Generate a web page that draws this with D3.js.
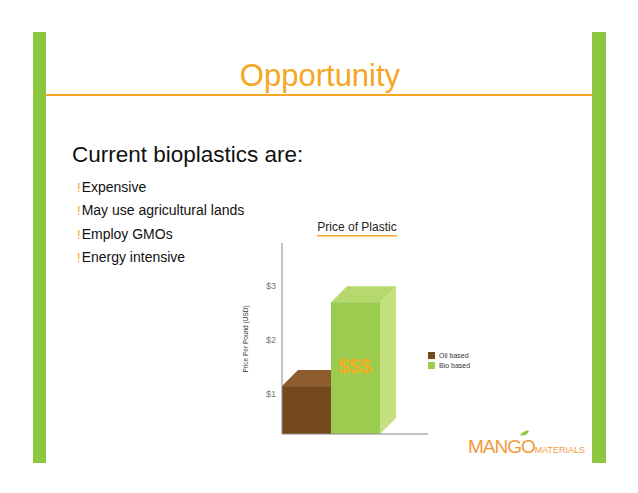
<!DOCTYPE html>
<html><head><meta charset="utf-8">
<script src="https://cdn.jsdelivr.net/npm/d3@7"></script>
<style>body{margin:0;background:#fff}text{font-family:"Liberation Sans",Arial,sans-serif}</style>
</head><body><div id="vis"></div>
<script>
var categories = ["Oil based", "Bio based"];
var prices = [1.14, 2.70];
var colors = ["#744a1c", "#9ccc4f"];
var topColors = ["#8e5d2f", "#b5d96c"];
var sideColors = ["#5e3a14", "#c4e07f"];
var tickValues = [1, 2, 3];
var bullets = ["Expensive", "May use agricultural lands", "Employ GMOs", "Energy intensive"];

var svg = d3.select("#vis").append("svg").attr("width", 638).attr("height", 493);

// slide frame
svg.append("rect").attr("x", 33).attr("y", 32).attr("width", 13).attr("height", 431).attr("fill", "#8dc63f");
svg.append("rect").attr("x", 592).attr("y", 32).attr("width", 14).attr("height", 431).attr("fill", "#8dc63f");
svg.append("text").attr("x", 320).attr("y", 86).attr("text-anchor", "middle")
	.attr("font-size", 31).attr("fill", "#f5a623").text("Opportunity");
svg.append("rect").attr("x", 46).attr("y", 94).attr("width", 546).attr("height", 2).attr("fill", "#f5a623");
svg.append("text").attr("x", 72).attr("y", 162).attr("font-size", 22.5).attr("fill", "#111").text("Current bioplastics are:");

bullets.forEach(function(b, i) {
	var t = svg.append("text").attr("x", 77).attr("y", 192 + i * 23.3).attr("font-size", 14).attr("fill", "#111");
	t.append("tspan").attr("fill", "#f5a623").attr("font-size", 13).text("!");
	t.append("tspan").attr("dx", 1).text(b);
});

// chart
var y = d3.scaleLinear().domain([0.25, 3.8]).range([434, 243]);
var x = d3.scaleBand().domain(categories).range([282, 380]).padding(0);
var dx = 16, dy = 16;

svg.append("text").attr("x", 357).attr("y", 231).attr("text-anchor", "middle")
	.attr("font-size", 12).attr("fill", "#222").text("Price of Plastic");
svg.append("rect").attr("x", 317).attr("y", 235).attr("width", 80).attr("height", 1.5).attr("fill", "#f5a623");

var g = svg.append("g");
[0, 1].forEach(function(i) {
	var x0 = x(categories[i]), w = x.bandwidth(), yt = y(prices[i]), yb = y.range()[0];
	g.append("polygon").attr("fill", sideColors[i])
		.attr("points", [[x0 + w, yt], [x0 + w + dx, yt - dy], [x0 + w + dx, yb - dy], [x0 + w, yb]].join(" "));
	g.append("polygon").attr("fill", topColors[i])
		.attr("points", [[x0, yt], [x0 + dx, yt - dy], [x0 + w + dx, yt - dy], [x0 + w, yt]].join(" "));
	g.append("rect").attr("x", x0).attr("y", yt).attr("width", w).attr("height", yb - yt).attr("fill", colors[i]);
});

svg.append("line").attr("x1", 282).attr("x2", 282).attr("y1", 243).attr("y2", 434).attr("stroke", "#888");
svg.append("line").attr("x1", 282).attr("x2", 428).attr("y1", 434).attr("y2", 434).attr("stroke", "#888");

var yAxis = svg.append("g").attr("transform", "translate(280,0)")
	.call(d3.axisLeft(y).tickValues(tickValues).tickFormat(function(d) { return "$" + d; }).tickSize(0).tickPadding(4));
yAxis.select(".domain").remove();
yAxis.selectAll("text").attr("font-size", 9).attr("fill", "#777").attr("font-family", "Liberation Sans, Arial");

svg.append("text").attr("transform", "translate(248,339) rotate(-90)").attr("text-anchor", "middle")
	.attr("font-size", 6.5).attr("fill", "#333").text("Price Per Pound (USD)");

svg.append("text").attr("x", 355).attr("y", 373).attr("text-anchor", "middle")
	.attr("font-size", 20).attr("font-weight", "bold").attr("fill", "#f0b020").text("$$$");

categories.forEach(function(c, i) {
	svg.append("rect").attr("x", 428).attr("y", 352 + i * 10).attr("width", 7).attr("height", 7).attr("fill", colors[i]);
	svg.append("text").attr("x", 439).attr("y", 358 + i * 10).attr("font-size", 7).attr("fill", "#333").text(c);
});

// logo
var logo = svg.append("text").attr("x", 468).attr("y", 453).attr("fill", "#f29a3a");
logo.append("tspan").attr("font-size", 19).attr("letter-spacing", -1).text("MANGO");
logo.append("tspan").attr("font-size", 9).text("MATERIALS");
svg.append("path").attr("d", "M520,435 q6,-6 9,-4 q-3,6 -9,4z").attr("fill", "#8dc63f");
</script></body></html>
